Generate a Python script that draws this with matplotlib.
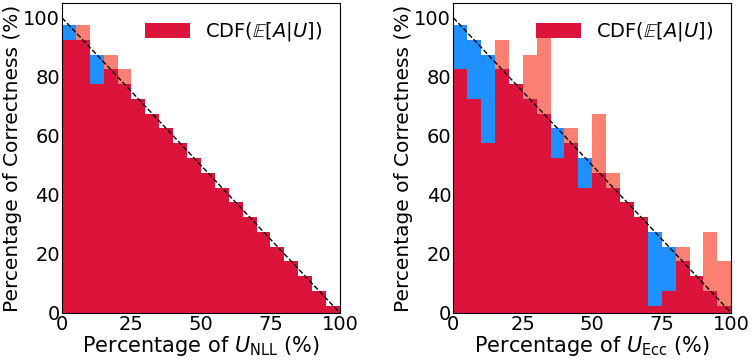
import matplotlib
matplotlib.use("Agg")
import matplotlib.pyplot as plt

plt.rcParams['font.family'] = ['DejaVu Sans']
plt.rcParams['mathtext.fontset'] = 'dejavusans'

bin_left = [0, 5, 10, 15, 20, 25, 30, 35, 40, 45, 50, 55, 60, 65, 70, 75, 80, 85, 90, 95]
bin_width = 5
ideal = [97.5, 92.5, 87.5, 82.5, 77.5, 72.5, 67.5, 62.5, 57.5, 52.5,
         47.5, 42.5, 37.5, 32.5, 27.5, 22.5, 17.5, 12.5, 7.5, 2.5]
nll_actual = [92.5, 97.5, 77.5, 87.5, 82.5, 72.5, 67.5, 62.5, 57.5, 52.5,
              47.5, 42.5, 37.5, 32.5, 27.5, 22.5, 17.5, 12.5, 7.5, 2.5]
ecc_actual = [82.5, 72.5, 57.5, 92.5, 77.5, 87.5, 97.5, 52.5, 62.5, 42.5,
              67.5, 47.5, 37.5, 32.5, 2.5, 7.5, 22.5, 12.5, 27.5, 17.5]
xticks = [0, 25, 50, 75, 100]
yticks = [0, 20, 40, 60, 80, 100]
xlabels = [r'Percentage of $U_{\mathrm{NLL}}$ (%)', r'Percentage of $U_{\mathrm{Ecc}}$ (%)']
ylabel = 'Percentage of Correctness (%)'
legend_label = r'CDF($\mathbb{E}[A|U]$)'

RED = '#DC143C'
BLUE = '#1E90FF'
SALMON = '#FA8072'

fig = plt.figure(figsize=(7.52, 3.61), dpi=100)
ax1 = fig.add_axes([0.0824, 0.133, 0.3696, 0.8587])
ax2 = fig.add_axes([0.6028, 0.133, 0.3696, 0.8587])

for ax, actual, xl in [(ax1, nll_actual, xlabels[0]), (ax2, ecc_actual, xlabels[1])]:
    ax.bar(bin_left, actual, width=bin_width, align='edge', color=RED,
           linewidth=0, label=legend_label, zorder=2)
    gaps = [i - a for i, a in zip(ideal, actual)]
    cols = [BLUE if g > 0 else SALMON for g in gaps]
    ax.bar(bin_left, gaps, bottom=actual, width=bin_width, align='edge',
           color=cols, linewidth=0, zorder=3)
    ax.plot([0, 100], [100, 0], color='black', linestyle='--', linewidth=1.0, zorder=4)
    ax.set_xlim(0, 100)
    ax.set_ylim(0, 105)
    ax.set_xticks(xticks)
    ax.set_yticks(yticks)
    ax.tick_params(axis='both', labelsize=14, length=0, pad=1.5)
    ax.set_xlabel(xl, fontsize=15, labelpad=0)
    ax.set_ylabel(ylabel, fontsize=14.5, labelpad=1)
    ax.legend(loc='upper right', frameon=False, fontsize=14,
              handlelength=2.3, handleheight=0.8, borderaxespad=0.5,
              handletextpad=0.8)
    for s in ax.spines.values():
        s.set_linewidth(0.8)
        s.set_zorder(5)

fig.savefig('out.png', dpi=100)
